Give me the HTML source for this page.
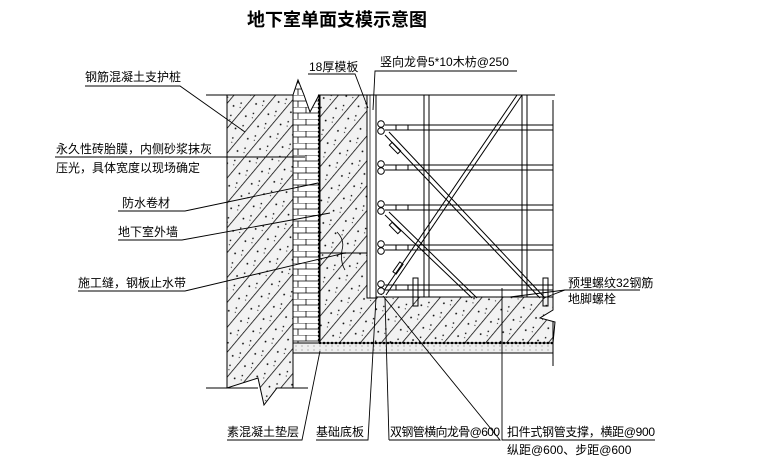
<!DOCTYPE html>
<html><head><meta charset="utf-8"><style>
html,body{margin:0;padding:0;background:#fff;}
svg{display:block;}
text{font-family:"Liberation Sans","Noto Sans CJK SC",sans-serif;fill:#000;}
</style></head><body>
<svg width="760" height="467" viewBox="0 0 760 467" xmlns="http://www.w3.org/2000/svg">
<defs>
<pattern id="con" width="16" height="16" patternUnits="userSpaceOnUse" patternTransform="rotate(-50)">
<rect width="16" height="16" fill="#f2f2f2"/>
<line x1="0" y1="0" x2="16" y2="0" stroke="#000" stroke-width="1.5"/>
<circle cx="5" cy="7" r="0.9" fill="#000"/><circle cx="12" cy="11" r="0.8" fill="#000"/>
<circle cx="8" cy="13" r="0.6" fill="#333"/>
</pattern>
<pattern id="dots" width="6" height="4" patternUnits="userSpaceOnUse">
<rect width="6" height="4" fill="#efefef"/><circle cx="2" cy="2" r="0.5" fill="#555"/>
</pattern>
<pattern id="brick" width="26" height="12" patternUnits="userSpaceOnUse" x="293" y="83">
<rect width="26" height="12" fill="#fff"/>
<line x1="0" y1="0" x2="26" y2="0" stroke="#000" stroke-width="0.8"/>
<line x1="0" y1="6" x2="26" y2="6" stroke="#000" stroke-width="0.8"/>
<line x1="13" y1="0" x2="13" y2="6" stroke="#000" stroke-width="0.8"/>
<line x1="5" y1="6" x2="5" y2="12" stroke="#000" stroke-width="0.8"/>
</pattern>
</defs>

<text x="247" y="26" font-size="18" font-weight="bold">地下室单面支模示意图</text>

<!-- pile -->
<polygon points="227,95 293,95 293,388 277,388 264,405 258,378 227,388" fill="url(#con)" stroke="#000" stroke-width="1"/>
<line x1="206" y1="95" x2="300" y2="95" stroke="#000"/>
<line x1="206" y1="388" x2="258" y2="388" stroke="#000"/>
<line x1="277" y1="388" x2="308" y2="388" stroke="#000"/>
<line x1="227" y1="95" x2="227" y2="388" stroke="#000"/>
<!-- brick -->
<polygon points="293,95 298,80 304,95 310,112 319,95 319,343 293,343" fill="url(#brick)" stroke="#000" stroke-width="1"/>
<line x1="319" y1="95" x2="319" y2="343" stroke="#000" stroke-width="2.2" stroke-dasharray="2,2"/>
<!-- wall + slab -->
<polygon points="320,95 367,95 367,297 553,297 553,310 540,318 555,322 553,343 320,343" fill="url(#con)" stroke="#000" stroke-width="1"/>
<line x1="318" y1="95" x2="555" y2="95" stroke="#000"/>
<line x1="320" y1="253" x2="367" y2="253" stroke="#000"/>
<path d="M337,232 Q345,240 342,250 Q340,262 345,270" fill="none" stroke="#000" stroke-width="0.8"/>
<!-- cushion -->
<rect x="293" y="343" width="260" height="10" fill="url(#dots)" stroke="#000" stroke-width="1"/>
<line x1="319" y1="343" x2="553" y2="343" stroke="#000" stroke-width="2.2" stroke-dasharray="2,2"/>
<line x1="553" y1="322" x2="553" y2="366" stroke="#000"/>
<!-- formwork -->
<rect x="367" y="95" width="9" height="203" fill="#fff" stroke="#000" stroke-width="1"/>
<line x1="370" y1="95" x2="370" y2="298" stroke="#000" stroke-width="0.7"/>
<g stroke="#000" stroke-width="1" fill="none">
<line x1="424" y1="95" x2="424" y2="297"/><line x1="429" y1="95" x2="429" y2="297"/>
<line x1="522" y1="95" x2="522" y2="297"/><line x1="527" y1="95" x2="527" y2="297"/>
<line x1="553" y1="100" x2="553" y2="297"/>
<line x1="385" y1="125" x2="553" y2="125"/><line x1="385" y1="130" x2="553" y2="130"/>
<line x1="385" y1="165" x2="553" y2="165"/><line x1="385" y1="170" x2="553" y2="170"/>
<line x1="385" y1="205" x2="553" y2="205"/><line x1="385" y1="210" x2="553" y2="210"/>
<line x1="385" y1="245" x2="553" y2="245"/><line x1="385" y1="250" x2="553" y2="250"/>
<line x1="385" y1="285" x2="553" y2="285"/><line x1="385" y1="290" x2="553" y2="290"/>
<line x1="517" y1="95" x2="381" y2="295"/><line x1="522" y1="95" x2="386" y2="295"/>
<line x1="385" y1="135" x2="540" y2="298"/><line x1="389" y1="132" x2="545" y2="298"/>
<line x1="385" y1="215" x2="472" y2="298"/><line x1="389" y1="212" x2="477" y2="298"/>
<rect x="396" y="125" width="12" height="5"/><rect x="396" y="165" width="12" height="5"/>
<rect x="396" y="205" width="12" height="5"/><rect x="396" y="245" width="12" height="5"/>
<rect x="396" y="285" width="12" height="5"/>
<rect x="393" y="142" width="4" height="12" transform="rotate(-45 395 148)"/>
<rect x="393" y="222" width="4" height="12" transform="rotate(-45 395 228)"/>
<rect x="396" y="262" width="4" height="12" transform="rotate(35 398 268)"/>
<rect x="413" y="278" width="5" height="28"/><rect x="543" y="278" width="5" height="28"/>
</g>
<g stroke="#000" stroke-width="1" fill="#fff">
<circle cx="381" cy="124" r="3.3"/><circle cx="381" cy="131" r="3.3"/>
<circle cx="381" cy="164" r="3.3"/><circle cx="381" cy="171" r="3.3"/>
<circle cx="381" cy="204" r="3.3"/><circle cx="381" cy="211" r="3.3"/>
<circle cx="381" cy="244" r="3.3"/><circle cx="381" cy="251" r="3.3"/>
<circle cx="381" cy="284" r="3.3"/><circle cx="381" cy="291" r="3.3"/>
</g>

<g stroke="#000" stroke-width="0.9" fill="none">
<polyline points="85,86 180,86 245,132"/>
<polyline points="55,157 305,157"/>
<polyline points="118,211 185,211 318,183"/>
<polyline points="118,240 182,240 330,213"/>
<polyline points="78,291 185,291 345,253"/>
<polyline points="308,74 355,74 368,108"/>
<polyline points="517,71 375,71 373,110"/>
<polyline points="640,290 565,290 544,298"/>
<line x1="565" y1="290" x2="510" y2="297"/>
<polyline points="227,440 302,440 320,351"/>
<polyline points="316,440 368,440 376,298"/>
<polyline points="389,440 500,440 383,296"/>
<line x1="389" y1="440" x2="385" y2="298"/>
<polyline points="655,440 502,440 502,288"/>
</g>

<g font-size="12">
<text x="85" y="81">钢筋混凝土支护桩</text>
<text x="56" y="153">永久性砖胎膜，内侧砂浆抹灰</text>
<text x="56" y="172">压光，具体宽度以现场确定</text>
<text x="122" y="207">防水卷材</text>
<text x="118" y="236">地下室外墙</text>
<text x="78" y="287">施工缝，钢板止水带</text>
<text x="309" y="71">18厚模板</text>
<text x="380" y="66">竖向龙骨5*10木枋@250</text>
<text x="568" y="287">预埋螺纹32钢筋</text>
<text x="568" y="303">地脚螺栓</text>
<text x="227" y="436">素混凝土垫层</text>
<text x="316" y="436">基础底板</text>
<text x="390" y="436" textLength="110">双钢管横向龙骨@600</text>
<text x="507" y="436" textLength="148">扣件式钢管支撑，横距@900</text>
<text x="507" y="454">纵距@600、步距@600</text>
</g>
</svg>
</body></html>
